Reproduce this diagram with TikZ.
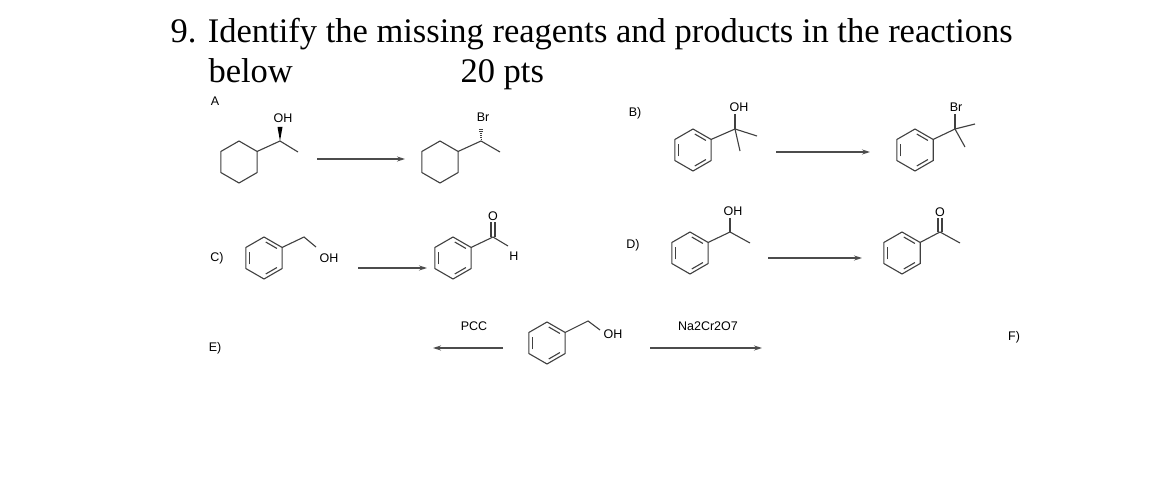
\documentclass[tikz,border=0pt]{standalone}
\usepackage{fontspec}
\setmainfont{Liberation Serif}
\setsansfont{Liberation Sans}
\usetikzlibrary{calc,arrows.meta}
\begin{document}
\begin{tikzpicture}[x=1pt,y=-1pt,line width=1.1pt,
  bond/.style={draw=black!75,line width=1.1pt},
  lab/.style={font=\sffamily\fontsize{12.5}{13}\selectfont,inner sep=0pt},
  rxn/.style={draw=black!70,line width=1.1pt,-{Stealth[length=8pt,width=5pt]}},
  title/.style={font=\fontsize{34.5}{36}\selectfont,anchor=base west,inner sep=0pt},
  benz/.pic={\draw[bond] (90:21)--(30:21)--(-30:21)--(-90:21)--(-150:21)--(150:21)--cycle;
    \draw[bond] ($(90:17)!0.12!(30:17)$)--($(90:17)!0.88!(30:17)$);
    \draw[bond] ($(150:17)!0.12!(-150:17)$)--($(150:17)!0.88!(-150:17)$);
    \draw[bond] ($(-30:17)!0.12!(-90:17)$)--($(-30:17)!0.88!(-90:17)$);},
  chex/.pic={\draw[bond] (90:21)--(30:21)--(-30:21)--(-90:21)--(-150:21)--(150:21)--cycle;}]
\useasboundingbox (0,0) rectangle (1153,489);
\fill[white] (0,0) rectangle (1153,489);
% title
\node[title] (t1) at (170,43) {9. Identify the missing reagents and products in the reactions};
\node[title] (t2) at (208,83) {below};
\node[title] (t3) at (460,83) {20 pts};
% A
\node[lab] (la) at (215,101) {A};
\pic at (239,162) {chex};
\draw[bond] (257,151.5)--(280,141)--(298,152);
\fill[black] (280,141)--(277.5,127)--(282.5,127)--cycle;
\node[lab] (oha) at (283,118) {OH};
\coordinate (a1) at (317,159); \coordinate (a2) at (405,159);
\draw[rxn] (a1)--(a2);
\pic at (440,162) {chex};
\draw[bond] (458,151.5)--(481,141)--(500,152);
\foreach \k in {0,...,5}{\draw[bond,line width=0.7pt] ($(481,141)+(-0.4-0.35*\k,-2-2*\k)$)--($(481,141)+(0.4+0.35*\k,-2-2*\k)$);}
\node[lab] (bra) at (483,117) {Br};
% B
\node[lab] (lb) at (635,113) {B)};
\pic at (693,150) {benz};
\draw[bond] (711,139.5)--(735,129)--(757,136);
\draw[bond] (735,129)--(740,151);
\draw[bond] (735,129)--(735,114);
\node[lab] (ohb) at (739,107) {OH};
\coordinate (b1) at (776,152); \coordinate (b2) at (870,152);
\draw[rxn] (b1)--(b2);
\pic at (915,150) {benz};
\draw[bond] (933,139.5)--(955,129)--(975,124);
\draw[bond] (955,129)--(965,147);
\draw[bond] (955,129)--(955,114);
\node[lab] (brb) at (956,107) {Br};
% C
\node[lab] (lc) at (217,258) {C)};
\pic at (264,258) {benz};
\draw[bond] (282,247.5)--(304,237)--(316,247);
\node[lab] (ohc) at (329,258) {OH};
\coordinate (c1) at (358,268); \coordinate (c2) at (427,268);
\draw[rxn] (c1)--(c2);
\pic at (453,258) {benz};
\draw[bond] (471,247.5)--(493,237)--(508,246);
\draw[bond] (491,237)--(491,222); \draw[bond] (495,237)--(495,222);
\node[lab] (oc) at (493,216) {O};
\node[lab] (hc) at (514,256) {H};
% D
\node[lab] (ld) at (633,245) {D)};
\pic at (690,253) {benz};
\draw[bond] (708,242.5)--(730,232)--(750,243);
\draw[bond] (730,232)--(730,218);
\node[lab] (ohd) at (733,211) {OH};
\coordinate (d1) at (768,258); \coordinate (d2) at (862,258);
\draw[rxn] (d1)--(d2);
\pic at (902,253) {benz};
\draw[bond] (920,242.5)--(940,232)--(960,243);
\draw[bond] (938,232)--(938,218); \draw[bond] (942,232)--(942,218);
\node[lab] (od) at (940,212) {O};
% E
\node[lab] (le) at (215,348) {E)};
\node[lab] (pcc) at (474,326) {PCC};
\coordinate (e1) at (503,348); \coordinate (e2) at (433,348);
\draw[rxn] (e1)--(e2);
\pic at (547,343) {benz};
\draw[bond] (565,332.5)--(588,321)--(600,330);
\node[lab] (ohe) at (613,334) {OH};
\node[lab] (na) at (708,326) {Na2Cr2O7};
\coordinate (f1) at (650,348); \coordinate (f2) at (762,348);
\draw[rxn] (f1)--(f2);
\node[lab] (lf) at (1014,337) {F)};
\end{tikzpicture}
\end{document}
